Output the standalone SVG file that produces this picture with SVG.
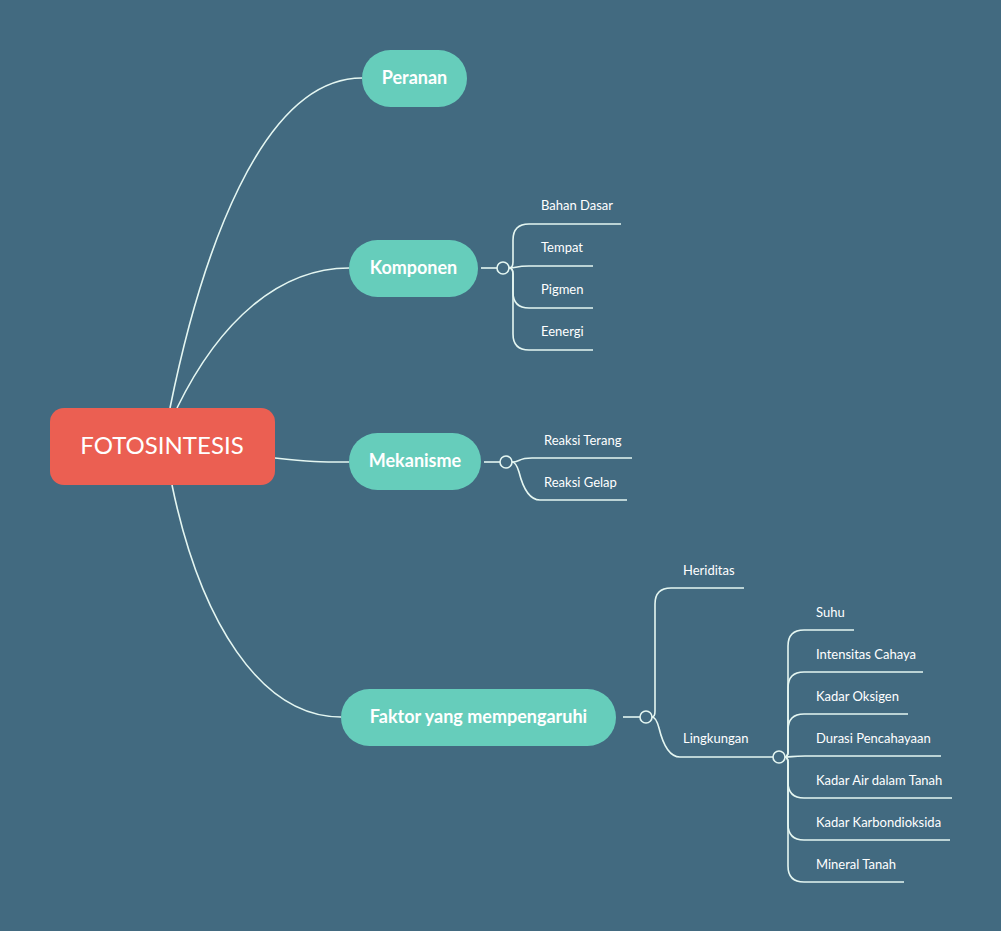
<svg xmlns="http://www.w3.org/2000/svg" width="1001" height="931" viewBox="0 0 1001 931">
<style>
.c{fill:none;stroke:#e4f6f1;stroke-width:1.6}
.dot{fill:#426a80;stroke:#e4f6f1;stroke-width:1.6}
.main{fill:#66cdbb}
.mt{fill:#fff;font-family:Lato,"Open Sans",sans-serif;font-weight:bold;font-size:18px;text-anchor:middle}
.st{fill:#fff;font-family:Lato,"Open Sans",sans-serif;font-size:13px}
</style>
<rect width="1001" height="931" fill="#426a80"/>
<g id="connectors">
<path class="c" d="M170,408 C200,260 260,78 362,78"/>
<path class="c" d="M177,408 C220,320 280,268 349,268"/>
<path class="c" d="M275,458 C310,462 320,462 349,462"/>
<path class="c" d="M172,485 C200,620 260,717 341,717"/>
<path class="c" d="M481,268 H497"/>
<path class="c" d="M509,268 Q513,268 513,262 V240 Q513,224 529,224 H621"/>
<path class="c" d="M509,268 C517,268 515,266 529,266 H593"/>
<path class="c" d="M509,268 Q513,268 513,274 V292 Q513,308 529,308 H593"/>
<path class="c" d="M509,268 Q513,268 513,274 V334 Q513,350 529,350 H593"/>
<path class="c" d="M484,462 H500"/>
<path class="c" d="M512,462 C520,462 518,458 532,458 H632"/>
<path class="c" d="M512,462 Q516,462 519,472 Q526,500 540,500 H627"/>
<path class="c" d="M623,717 H640"/>
<path class="c" d="M652,717 Q655,717 655,711 V604 Q655,588 671,588 H744"/>
<path class="c" d="M652,717 Q656,717 659,728 Q666,757 680,757 H773"/>
<path class="c" d="M785,757 Q788,757 788,751 V646 Q788,630 804,630 H854"/>
<path class="c" d="M785,757 Q788,757 788,751 V688 Q788,672 804,672 H923"/>
<path class="c" d="M785,757 Q788,757 788,751 V730 Q788,714 804,714 H908"/>
<path class="c" d="M785,757 C793,757 791,756 805,756 H941"/>
<path class="c" d="M785,757 Q788,757 788,763 V782 Q788,798 804,798 H952"/>
<path class="c" d="M785,757 Q788,757 788,763 V824 Q788,840 804,840 H950"/>
<path class="c" d="M785,757 Q788,757 788,763 V866 Q788,882 804,882 H904"/>
<circle class="dot" cx="503" cy="268" r="6"/>
<circle class="dot" cx="506" cy="462" r="6"/>
<circle class="dot" cx="646" cy="717" r="6"/>
<circle class="dot" cx="779" cy="757" r="6"/>
</g>
<g id="root"><rect x="50" y="408" width="225" height="77" rx="14" fill="#eb5f52"/><text x="162" y="454" fill="#fff" font-family="Lato,'Open Sans',sans-serif" font-size="24" text-anchor="middle">FOTOSINTESIS</text></g>
<g id="peranan"><rect class="main" x="362" y="50" width="105" height="57" rx="28.5"/><text class="mt" x="414.5" y="84">Peranan</text></g>
<g id="komponen"><rect class="main" x="349" y="240" width="129" height="57" rx="28.5"/><text class="mt" x="413.5" y="274">Komponen</text></g>
<g id="mekanisme"><rect class="main" x="349" y="433" width="132" height="57" rx="28.5"/><text class="mt" x="415" y="467">Mekanisme</text></g>
<g id="faktor"><rect class="main" x="341" y="689" width="275" height="57" rx="28.5"/><text class="mt" x="478.5" y="723">Faktor yang mempengaruhi</text></g>
<g id="sub">
<text class="st" x="541" y="210">Bahan Dasar</text>
<text class="st" x="541" y="252">Tempat</text>
<text class="st" x="541" y="294">Pigmen</text>
<text class="st" x="541" y="336">Eenergi</text>
<text class="st" x="544" y="445">Reaksi Terang</text>
<text class="st" x="544" y="487">Reaksi Gelap</text>
<text class="st" x="683" y="575">Heriditas</text>
<text class="st" x="683" y="743">Lingkungan</text>
<text class="st" x="816" y="617">Suhu</text>
<text class="st" x="816" y="659">Intensitas Cahaya</text>
<text class="st" x="816" y="701">Kadar Oksigen</text>
<text class="st" x="816" y="743">Durasi Pencahayaan</text>
<text class="st" x="816" y="785">Kadar Air dalam Tanah</text>
<text class="st" x="816" y="827">Kadar Karbondioksida</text>
<text class="st" x="816" y="869">Mineral Tanah</text>
</g>
</svg>
